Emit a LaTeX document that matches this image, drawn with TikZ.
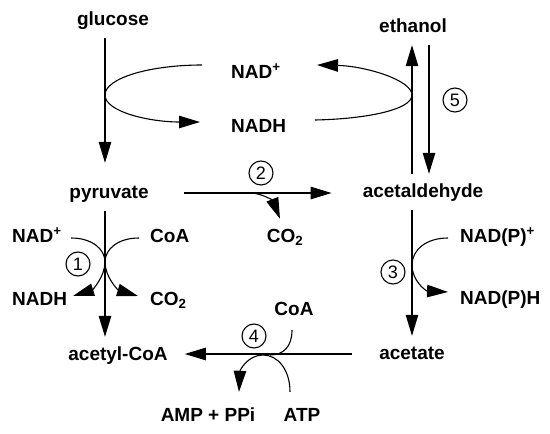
\documentclass[tikz,border=0pt]{standalone}
\usepackage{fontspec}
\setmainfont{Liberation Sans}
\usetikzlibrary{arrows.meta}

\begin{document}
\begin{tikzpicture}[x=1pt,y=1pt,yscale=-1,xscale=1,
  cpd/.style={inner xsep=3pt,inner ysep=9pt,text height=14pt,text depth=4pt,font=\fontsize{19}{22}\selectfont\bfseries},
  stepno/.style={circle,draw,line width=1.1pt,minimum size=24pt,inner sep=0pt,font=\fontsize{18}{20}\selectfont},
  flow/.style={line width=1.1pt,-{Triangle[length=21pt,width=12.5pt]}},
  side/.style={line width=1.1pt}]
\useasboundingbox (0,0) rectangle (550,434);

% Text Node
\node (glucose) [cpd] at (113,20) {glucose};
\node (pyruvate) [cpd] at (109,193) {pyruvate};
\node (acetylCoA) [cpd] at (118,355) {acetyl-CoA};
\node (ethanol) [cpd] at (413,27) {ethanol};
\node (acetaldehyde) [cpd] at (423,192) {acetaldehyde};
\node (acetate) [cpd] at (412,354) {acetate};
% Text Node
\node (nadA) [cpd,anchor=west] at (228,73) {NAD\textsuperscript{+}};
\node (nadhA) [cpd,anchor=west] at (228,127) {NADH};
\node (co2b) [cpd] at (285,237) {CO\textsubscript{2}};
\node (nadB) [cpd,anchor=west] at (9,237) {NAD\textsuperscript{+}};
\node (coaB) [cpd,anchor=west] at (147,237) {CoA};
\node (nadhB) [cpd,anchor=west] at (9,300) {NADH};
\node (co2c) [cpd,anchor=west] at (147,300) {CO\textsubscript{2}};
\node (nadp) [cpd,anchor=west] at (457,237) {NAD(P)\textsuperscript{+}};
\node (nadph) [cpd,anchor=west] at (457,299) {NAD(P)H};
\node (coaD) [cpd] at (294,310) {CoA};
\node (amp) [cpd] at (208,416) {AMP + PPi};
\node (atp) [cpd] at (302,416) {ATP};

%Shape: Circle
\node (c1) [stepno] at (78,264) {1};
\node (c2) [stepno] at (261,173) {2};
\node (c3) [stepno] at (393,272) {3};
\node (c4) [stepno] at (254,336) {4};
\node (c5) [stepno] at (455,100) {5};

% junctions on the lines
\coordinate (jA) at (105,95);
\coordinate (jB) at (412,95);
\coordinate (jE) at (429,95);
\coordinate (j1) at (105,262);
\coordinate (j2) at (250,193);
\coordinate (j3) at (412,265);
\coordinate (j4a) at (270,355);
\coordinate (j4b) at (263,355);

% glycolysis
\draw[flow,shorten >=12pt] (glucose.south -| jA) -- (pyruvate.north -| jA);
\draw[flow] ([xshift=-26pt,yshift=-8pt]nadA.west) .. controls (150,65) and (105,78) .. (jA) .. controls (105,112) and (150,122) .. ([xshift=-28pt,yshift=-5pt]nadhA.west);
% step 1
\draw[flow] (pyruvate.south -| jA) -- (acetylCoA.north -| jA);
\draw[flow] ([xshift=62pt,yshift=1pt]nadB.west) .. controls (92,238) and (105,249) .. (j1) .. controls (105,277) and (92,290) .. ([xshift=64pt,yshift=-4pt]nadhB.west);
\draw[flow] ([xshift=-8pt,yshift=1pt]coaB.west) .. controls (118,238) and (105,249) .. (j1) .. controls (105,277) and (118,290) .. ([xshift=-9pt,yshift=-4pt]co2c.west);
% step 2
\draw[flow,shorten <=32pt,shorten >=28pt] (pyruvate.east) -- (pyruvate.east -| acetaldehyde.west);
\draw[flow] (j2) .. controls (262,193) and (273,201) .. ([xshift=-5pt]co2b.north);
% step 5
\draw[flow] (acetaldehyde.north -| jB) -- (ethanol.south -| jB);
\draw[flow] (ethanol.south -| jE) -- (acetaldehyde.north -| jE);
\draw[flow] ([xshift=87pt,yshift=-7pt]nadhA.west) .. controls (365,119) and (412,110) .. (jB) .. controls (412,80) and (365,66) .. ([xshift=89pt,yshift=-8pt]nadA.west);
% step 3
\draw[flow] (acetaldehyde.south -| jB) -- (acetate.north -| jB);
\draw[flow] ([xshift=-9pt,yshift=1pt]nadp.west) .. controls (426,238) and (412,250) .. (j3) .. controls (412,281) and (426,291) .. ([xshift=-9pt,yshift=-7pt]nadph.west);
% step 4
\draw[flow,shorten <=24pt,shorten >=14pt] (acetate.west) -- (acetate.west -| acetylCoA.east);
\draw[side] ([xshift=-2pt,yshift=2pt]coaD.south) .. controls (292,346) and (284,355) .. (j4a);
\draw[flow] ([xshift=-12pt,yshift=-6pt]atp.north) .. controls (290,370) and (278,355) .. (j4b) .. controls (248,355) and (240,370) .. ([xshift=31pt,yshift=-6pt]amp.north);

\end{tikzpicture}
\end{document}
